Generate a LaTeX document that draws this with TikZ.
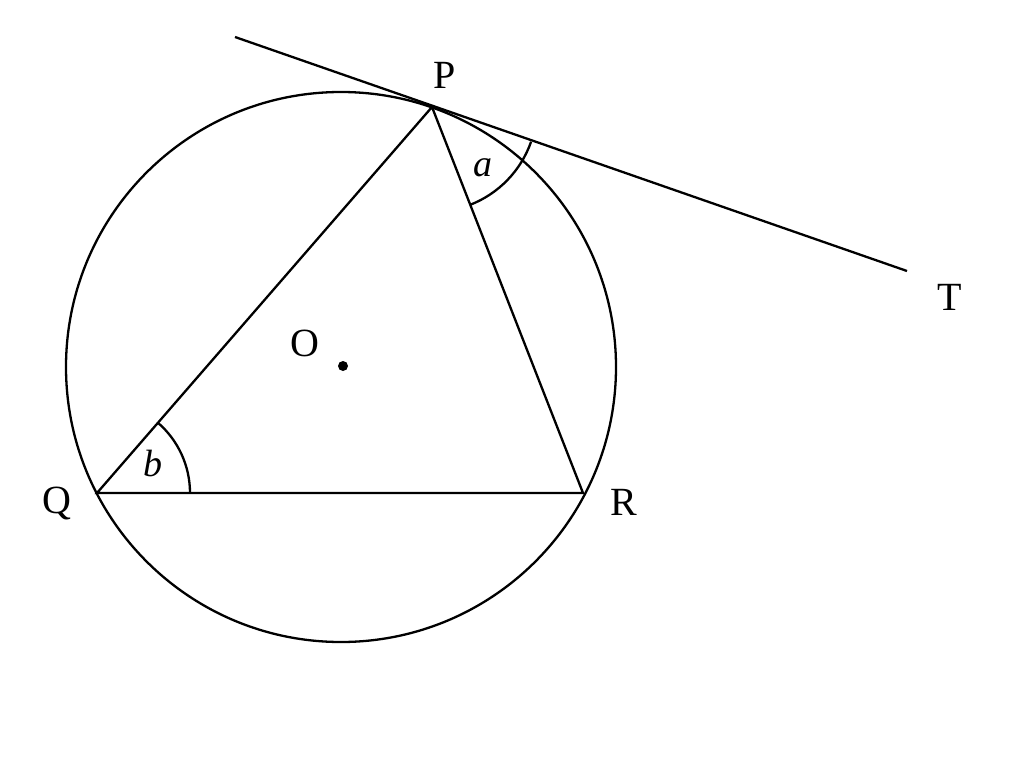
\documentclass[tikz,border=0pt]{standalone}
\usepackage{fontspec}
\setmainfont{Liberation Serif}
\usetikzlibrary{calc}
\begin{document}
\begin{tikzpicture}[x=1pt,y=-1pt,line width=2.3pt,
  lbl/.style={font=\fontsize{40}{44}\selectfont, inner sep=0pt},
  ang/.style={font=\fontsize{38}{42}\selectfont\itshape, inner sep=0pt}]
\useasboundingbox (0,0) rectangle (1010,768);
\coordinate (O) at (341,367);
\coordinate (P) at (432,107);
\coordinate (Q) at (97,493);
\coordinate (R) at (583,493);
\coordinate (T1) at (235,37);
\coordinate (T2) at (907,271);
\draw (O) circle[radius=275];
\draw (T1) -- (T2);
\draw (P) -- (Q) -- (R) -- cycle;
\draw ($(P)+(19.3:105)$) arc[start angle=19.3, end angle=68.6, radius=105];
\draw ($(Q)+(-49:93)$) arc[start angle=-49, end angle=0, radius=93];
\fill (343,366) circle[radius=5];
\node[lbl] (lP) at (445,75) {P};
\node[lbl] (lT) at (950,297) {T};
\node[lbl] (lQ) at (57,503) {Q};
\node[lbl] (lR) at (624,502) {R};
\node[lbl] (lO) at (305,343) {O};
\node[ang] (la) at (483,168) {a};
\node[ang] (lb) at (153,463) {b};
\end{tikzpicture}
\end{document}
